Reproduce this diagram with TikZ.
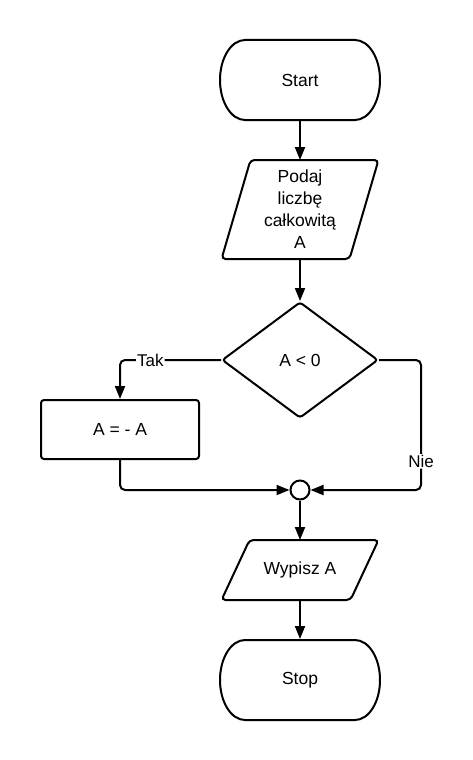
\documentclass[tikz,border=0pt]{standalone}
\usepackage{fontspec}
\setmainfont{Liberation Sans}
\usetikzlibrary{arrows.meta,shapes.geometric}
\newcommand\drawterm[1]{%
  \draw[line width=2pt]
    ([shift={(-55,-40)}]#1.center) -- ([shift={(55,-40)}]#1.center)
    .. controls ([shift={(68.8,-40)}]#1.center) and ([shift={(80,-22.1)}]#1.center) .. ([shift={(80,0)}]#1.center)
    .. controls ([shift={(80,22.1)}]#1.center) and ([shift={(68.8,40)}]#1.center) .. ([shift={(55,40)}]#1.center)
    -- ([shift={(-55,40)}]#1.center)
    .. controls ([shift={(-68.8,40)}]#1.center) and ([shift={(-80,22.1)}]#1.center) .. ([shift={(-80,0)}]#1.center)
    .. controls ([shift={(-80,-22.1)}]#1.center) and ([shift={(-68.8,-40)}]#1.center) .. ([shift={(-55,-40)}]#1.center)
    -- cycle;}
\begin{document}
\begin{tikzpicture}[x=1pt,y=-1pt,
  every node/.style={font=\fontsize{17.5}{22}\selectfont, text=black},
  shp/.style={draw, line width=2pt},
  ghost/.style={draw=none, inner sep=0pt, outer sep=1pt, align=center},
  boxstyle/.style={shp, rounded corners=3pt, minimum width=158pt, minimum height=59pt, outer sep=1pt},
  decision/.style={shp, diamond, rounded corners=3pt, inner sep=0pt, minimum width=156pt, minimum height=116pt, outer sep=1pt},
  junction/.style={shp, circle, minimum size=19pt, inner sep=0pt, outer sep=1pt},
  conn/.style={line width=2pt, rounded corners=5pt, -{Triangle[length=13pt,width=10pt]}},
  lbl/.style={fill=white, inner sep=1pt, font=\fontsize{17}{20}\selectfont}
]
\useasboundingbox (0,0) rectangle (473,760);

% Start terminator
\node[ghost, minimum width=160pt, minimum height=80pt] (start) at (300,80) {Start};
\drawterm{start}

% Input parallelogram
\node[ghost, minimum width=155pt, minimum height=97pt] (podaj) at (300,209.5) {Podaj\\liczbę\\całkowitą\\A};
\draw[line width=2pt, rounded corners=4pt] ([xshift=29pt]podaj.north west) -- (podaj.north east)
  -- ([xshift=-29pt]podaj.south east) -- (podaj.south west) -- cycle;

% Decision
\node[decision] (dia) at (300,360) {A < 0};

% Process
\node[boxstyle] (box) at (120,429.5) {A = - A};

% Junction
\node[junction] (circ) at (300,490) {};

% Output parallelogram
\node[ghost, minimum width=155pt, minimum height=58pt] (wyp) at (300,570) {Wypisz A};
\draw[line width=2pt, rounded corners=4pt] ([xshift=28pt]wyp.north west) -- (wyp.north east)
  -- ([xshift=-28pt]wyp.south east) -- (wyp.south west) -- cycle;

% Stop terminator
\node[ghost, minimum width=160pt, minimum height=80pt] (stop) at (300,680) {Stop};
\drawterm{stop}

% Connectors
\coordinate (nieCorner) at (421,360);
\draw[conn] (start.south) -- (podaj.north);
\draw[conn] (podaj.south) -- (dia.north);
\draw[conn] (dia.west) -| node[pos=0.35, lbl] {Tak} (box.north);
\draw[conn] (box.south) |- (circ.west);
\draw[conn] (dia.east) -- (nieCorner) |- node[pos=0.39, lbl] {Nie} (circ.east);
\draw[conn] (circ.south) -- (wyp.north);
\draw[conn] (wyp.south) -- (stop.north);
\end{tikzpicture}
\end{document}
